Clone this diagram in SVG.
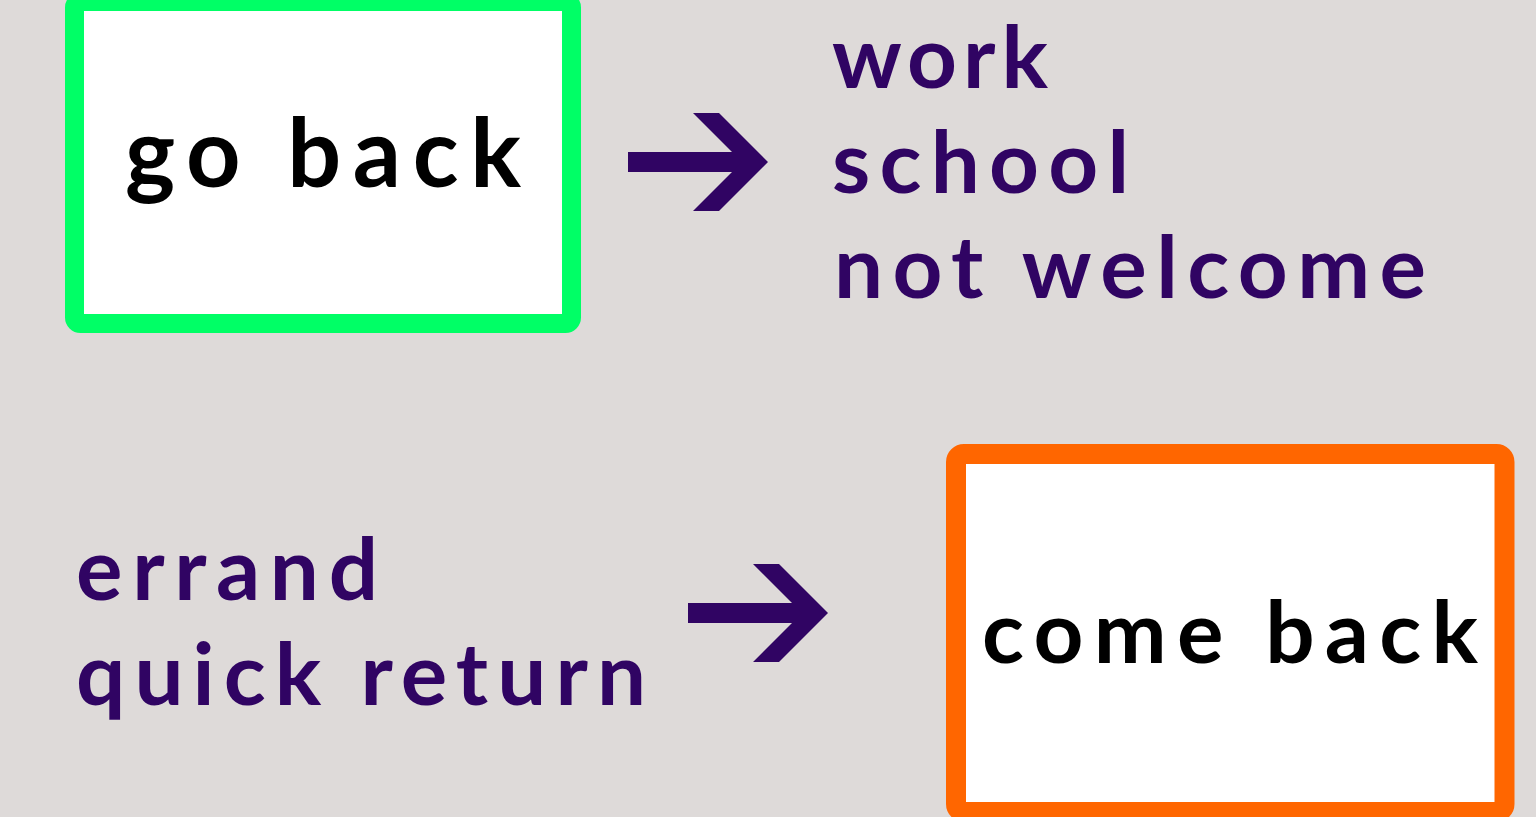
<svg xmlns="http://www.w3.org/2000/svg" width="1536" height="817" viewBox="0 0 1536 817">
<style>
.box-text{font-family:Lato,"Liberation Sans",sans-serif;font-weight:700;fill:#000000}
.label{font-family:Lato,"Liberation Sans",sans-serif;font-weight:700;fill:#300463}
.arrow{fill:#300463}
</style>
<defs>
<g id="arr">
<rect x="0" y="0" width="118" height="20"/>
<polygon points="65,-39 91,-39 140,10 91,59 65,59 114,10"/>
</g>
</defs>
<rect x="0" y="0" width="1536" height="817" fill="#dedad9"/>
<g id="node-go-back">
<rect x="74.5" y="1.5" width="497" height="322" rx="6" fill="#ffffff" stroke="#00ff66" stroke-width="19"/>
<text class="box-text" x="125" y="187" font-size="95" textLength="396" lengthAdjust="spacing">go back</text>
</g>
<g id="node-destinations">
<text class="label" x="832" y="88" font-size="87" textLength="216" lengthAdjust="spacing">work</text>
<text class="label" x="832" y="193" font-size="87" textLength="297" lengthAdjust="spacing">school</text>
<text class="label" x="834" y="298" font-size="87" textLength="592" lengthAdjust="spacing">not welcome</text>
</g>
<g id="node-reasons">
<text class="label" x="76" y="600" font-size="87" textLength="302" lengthAdjust="spacing">errand</text>
<text class="label" x="76" y="705" font-size="87" textLength="570" lengthAdjust="spacing">quick return</text>
</g>
<g id="node-come-back">
<rect x="956" y="454" width="548.5" height="358" rx="8" fill="#ffffff" stroke="#ff6600" stroke-width="20"/>
<text class="box-text" x="982" y="663" font-size="87" textLength="496" lengthAdjust="spacing">come back</text>
</g>
<g id="connectors" class="arrow">
<use href="#arr" x="628" y="152"/>
<use href="#arr" x="688" y="603"/>
</g>
</svg>
